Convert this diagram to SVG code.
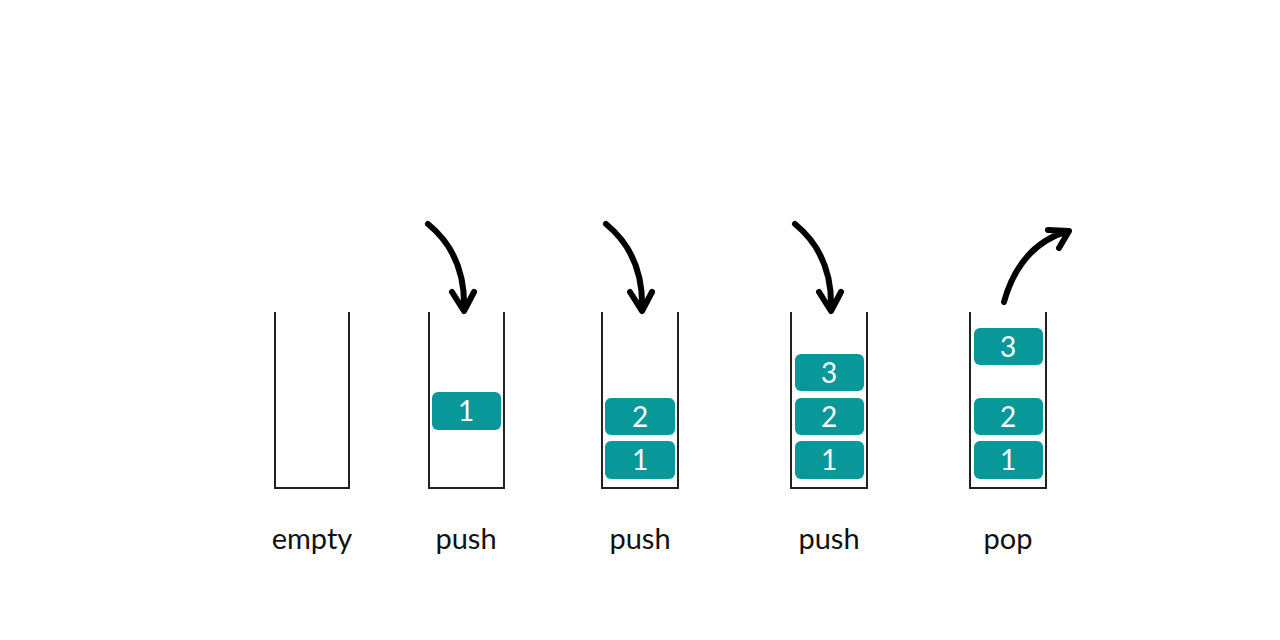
<svg xmlns="http://www.w3.org/2000/svg" width="1280" height="640" viewBox="0 0 1280 640">
<style>
.c{fill:none;stroke:#222;stroke-width:2}
.b{fill:#08989a}
.n{fill:#fff;font-family:Lato,"Liberation Sans",sans-serif;font-size:28px;text-anchor:middle}
.l{fill:#111;font-family:Lato,"Liberation Sans",sans-serif;font-size:29px;text-anchor:middle}
.a{fill:none;stroke:#000;stroke-width:6;stroke-linecap:round;stroke-linejoin:round}
</style>
<rect width="1280" height="640" fill="#fff"/>
<g id="empty"><path class="c" d="M275 312V488H349V312"/><text class="l" x="312" y="549">empty</text></g>
<g id="push1"><path class="c" d="M429 312V488H504V312"/>
<rect class="b" x="432" y="392" width="69" height="38" rx="6"/><text class="n" x="466" y="421">1</text>
<text class="l" x="466" y="549">push</text></g>
<g id="push2"><path class="c" d="M602 312V488H678V312"/>
<rect class="b" x="605" y="398" width="70" height="37" rx="6"/><text class="n" x="640" y="427">2</text>
<rect class="b" x="605" y="441" width="70" height="38" rx="6"/><text class="n" x="640" y="470">1</text>
<text class="l" x="640" y="549">push</text></g>
<g id="push3"><path class="c" d="M791 312V488H867V312"/>
<rect class="b" x="795" y="354" width="69" height="37" rx="6"/><text class="n" x="829" y="383">3</text>
<rect class="b" x="795" y="398" width="69" height="37" rx="6"/><text class="n" x="829" y="427">2</text>
<rect class="b" x="795" y="441" width="69" height="38" rx="6"/><text class="n" x="829" y="470">1</text>
<text class="l" x="829" y="549">push</text></g>
<g id="pop"><path class="c" d="M970 312V488H1046V312"/>
<rect class="b" x="974" y="328" width="69" height="37" rx="6"/><text class="n" x="1008" y="357">3</text>
<rect class="b" x="974" y="398" width="69" height="37" rx="6"/><text class="n" x="1008" y="427">2</text>
<rect class="b" x="974" y="441" width="69" height="38" rx="6"/><text class="n" x="1008" y="470">1</text>
<text class="l" x="1008" y="549">pop</text></g>
<g id="connectors">
<path class="a" d="M428 224Q466 255 464 310M452 292L464 311L474 292"/>
<path class="a" d="M606 224Q644 255 642 310M630 292L642 311L652 292"/>
<path class="a" d="M795 224Q833 255 831 310M819 292L831 311L841 292"/>
<path class="a" d="M1004 302Q1020 245 1068 231M1048 230L1069 231L1059 248"/>
</g>
</svg>
